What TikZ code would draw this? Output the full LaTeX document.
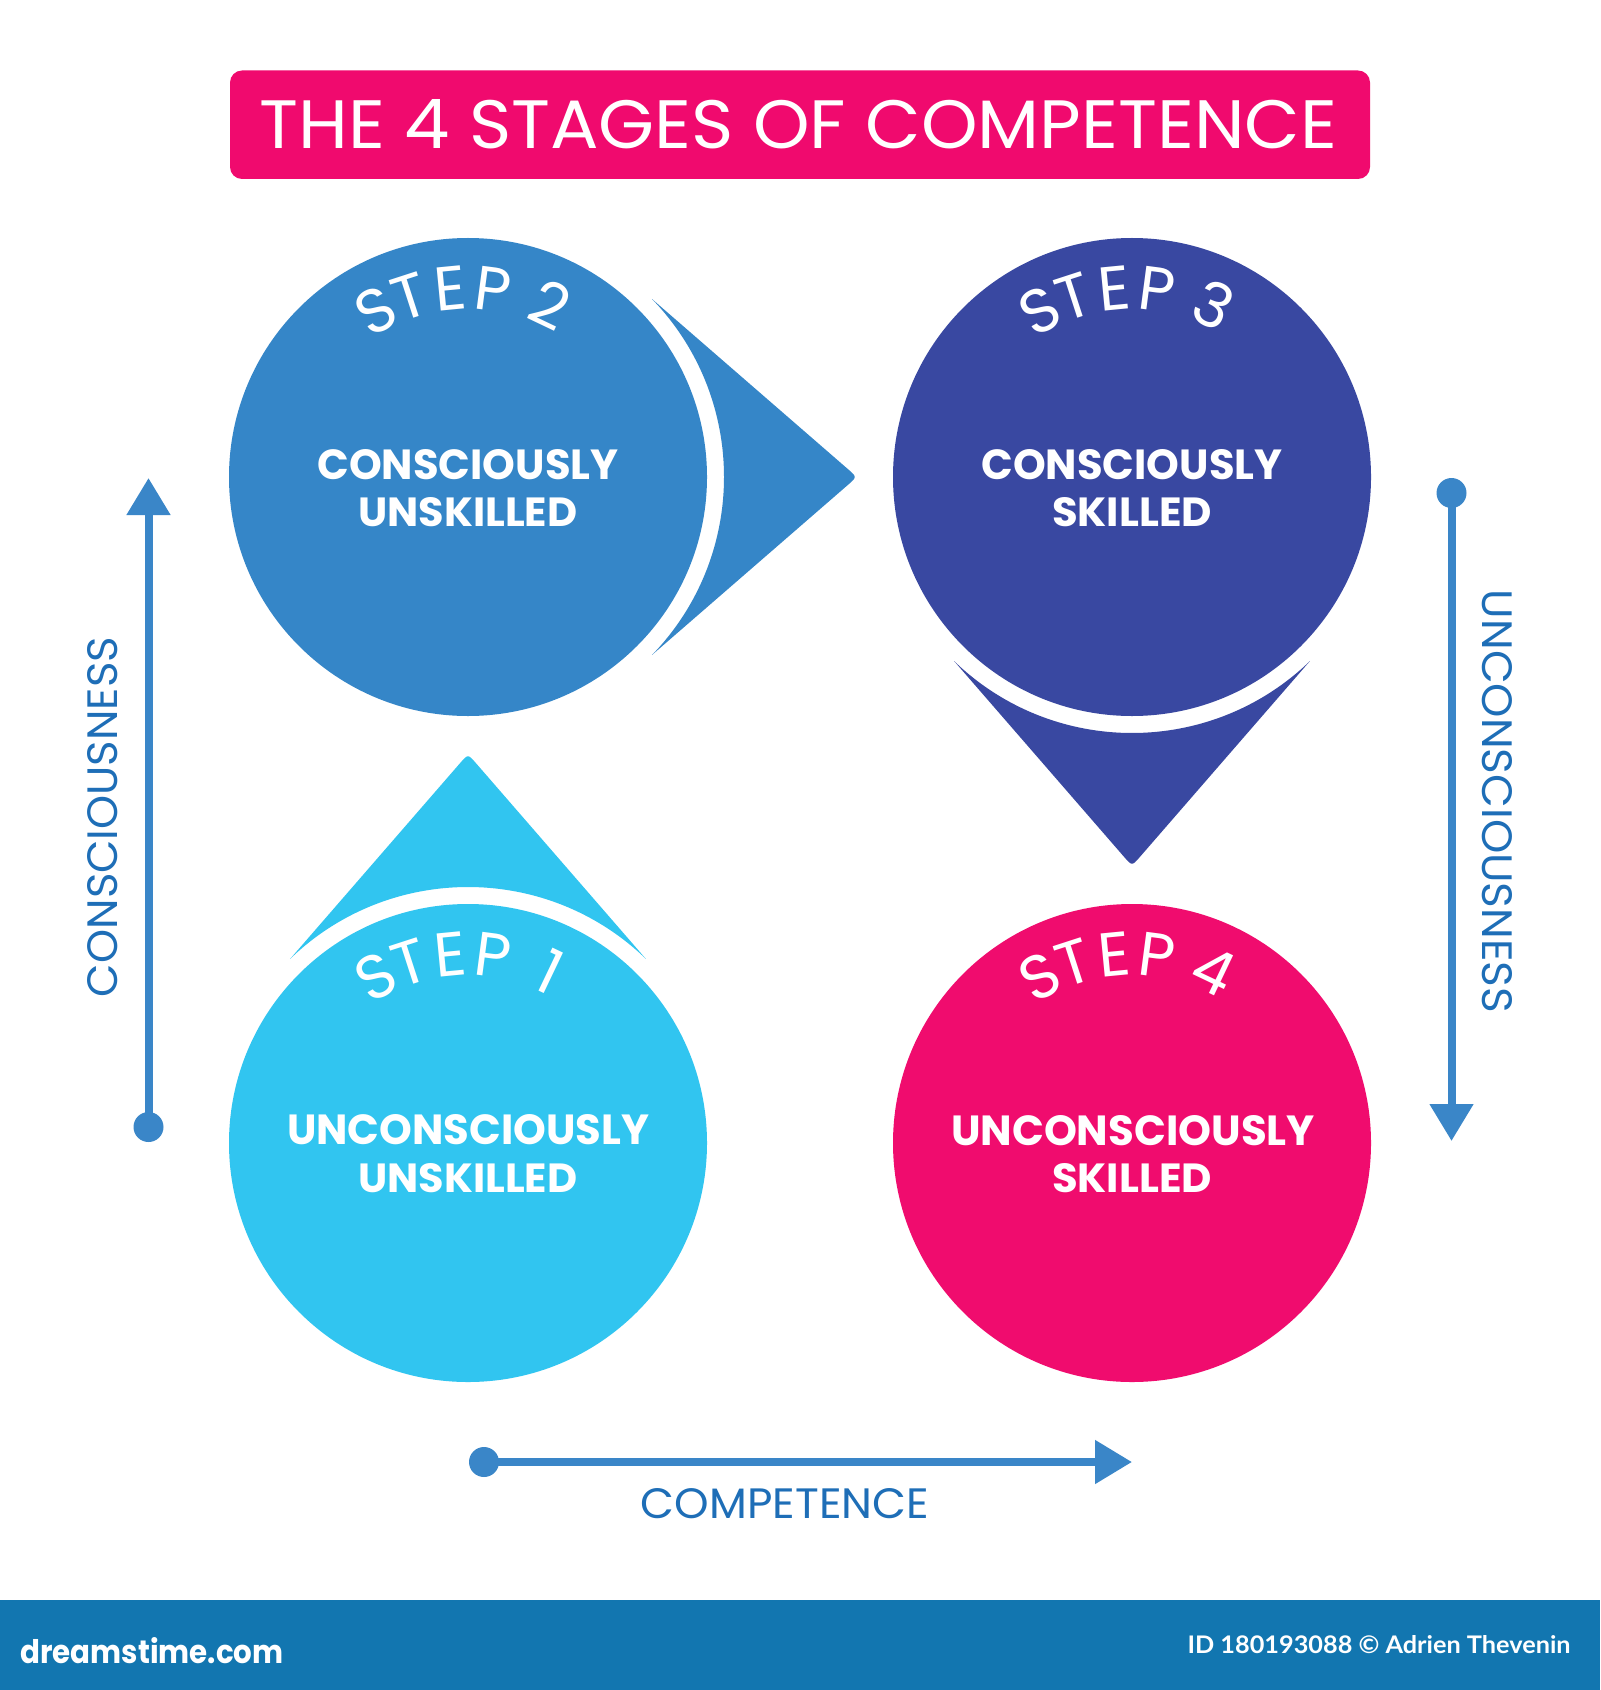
\documentclass[tikz,border=0pt]{standalone}
\usepackage{fontspec}
\setmainfont{Poppins}
\newfontfamily\idfont{Lato}
\usetikzlibrary{calc,arrows.meta}
\definecolor{pinkc}{HTML}{F00A6E}
\definecolor{stepone}{HTML}{31C5F0}
\definecolor{steptwo}{HTML}{3586C8}
\definecolor{stepthree}{HTML}{3948A1}
\definecolor{stepfour}{HTML}{F00C6E}
\definecolor{axisc}{HTML}{3A86C8}
\definecolor{labelc}{HTML}{1E6EB7}
\definecolor{bandc}{HTML}{1276B0}
\begin{document}
\begin{tikzpicture}[x=0.5pt,y=-0.5pt,
  steplet/.style={text=white, font=\fontsize{31pt}{31pt}\selectfont, anchor=base, inner sep=0pt},
  bodytext/.style={text=white, anchor=base, inner sep=0pt, font=\bfseries},
  axislabel/.style={text=labelc, anchor=base, inner sep=0pt},
  axisline/.style={draw=axisc, line width=4pt, -{Triangle[length=18.5pt,width=21pt]}},
  axisdot/.style={fill=axisc}
]
\useasboundingbox (0,0) rectangle (1600,1690);
\fill[white] (0,0) rectangle (1600,1690);

% title
\fill[pinkc, rounded corners=6pt] (230,70.5) rectangle (1370,179);
\node[text=white, anchor=base, inner sep=0pt] (title) at (798.5,149) {\resizebox{538.5pt}{24.5pt}{THE 4 STAGES OF COMPETENCE}};

% centres
\coordinate (c1) at (468,1143);
\coordinate (c2) at (468,477);
\coordinate (c3) at (1132,477);
\coordinate (c4) at (1132,1143);

% step 2 (tip right)
\coordinate (t2) at ($(c2)+(0:389)$);
\coordinate (a2) at ($(c2)+(-44:256)$);
\coordinate (b2) at ($(c2)+(44:256)$);
\fill[steptwo] (a2) -- ($(t2)!6pt!(a2)$) .. controls (t2) .. ($(t2)!6pt!(b2)$) -- (b2) arc[start angle=44, end angle=-44, radius=256] -- cycle;
\fill[steptwo] (c2) circle[radius=239];

% step 3 (tip down)
\coordinate (t3) at ($(c3)+(90:389)$);
\coordinate (a3) at ($(c3)+(46:256)$);
\coordinate (b3) at ($(c3)+(134:256)$);
\fill[stepthree] (a3) -- ($(t3)!6pt!(a3)$) .. controls (t3) .. ($(t3)!6pt!(b3)$) -- (b3) arc[start angle=134, end angle=46, radius=256] -- cycle;
\fill[stepthree] (c3) circle[radius=239];

% step 1 (tip up)
\coordinate (t1) at ($(c1)+(-90:389)$);
\coordinate (a1) at ($(c1)+(-134:256)$);
\coordinate (b1) at ($(c1)+(-46:256)$);
\fill[stepone] (a1) -- ($(t1)!6pt!(a1)$) .. controls (t1) .. ($(t1)!6pt!(b1)$) -- (b1) arc[start angle=-46, end angle=-134, radius=256] -- cycle;
\fill[stepone] (c1) circle[radius=239];

% step 4
\fill[stepfour] (c4) circle[radius=239];

% STEP letters
\foreach \c/\d in {c1/1,c2/2,c3/3,c4/4}{
  \foreach \ch/\ang/\rot [count=\i] in {S/-119/29, T/-108/18, E/-95.5/5.5, P/-82.5/-7.5, \d/-64.5/-25.5}{
    \node[steplet, rotate=\rot] (lab\d-\i) at ($(\c)+(\ang:168)$) {\ch};
  }
}

% body texts
\node[bodytext] (s2a) at (468,479) {\resizebox{150.5pt}{15pt}{CONSCIOUSLY}};
\node[bodytext] (s2b) at (468,526) {\resizebox{109.5pt}{14.5pt}{UNSKILLED}};
\node[bodytext] (s3a) at (1132,479) {\resizebox{150.5pt}{15pt}{CONSCIOUSLY}};
\node[bodytext] (s3b) at (1132,526) {\resizebox{80pt}{14.5pt}{SKILLED}};
\node[bodytext] (s1a) at (468,1144) {\resizebox{181pt}{15pt}{UNCONSCIOUSLY}};
\node[bodytext] (s1b) at (468,1192) {\resizebox{109.5pt}{14.5pt}{UNSKILLED}};
\node[bodytext] (s4a) at (1133,1145) {\resizebox{182pt}{15pt}{UNCONSCIOUSLY}};
\node[bodytext] (s4b) at (1132,1192) {\resizebox{80pt}{14.5pt}{SKILLED}};

% axes
\coordinate (lA) at (148.5,1127); \coordinate (lB) at (148.5,478);
\coordinate (rA) at (1451.5,493); \coordinate (rB) at (1451.5,1141);
\coordinate (bA) at (484,1462);   \coordinate (bB) at (1132,1462);
\foreach \p in {lA,rA,bA}{\fill[axisdot] (\p) circle[radius=15];}
\draw[axisline] (lA) -- (lB);
\draw[axisline] (rA) -- (rB);
\draw[axisline] (bA) -- (bB);

\node[axislabel, rotate=90] (lcons) at (117,817) {\resizebox{180pt}{15pt}{CONSCIOUSNESS}};
\node[axislabel, rotate=-90] (lunc) at (1482,801.5) {\resizebox{211.5pt}{15pt}{UNCONSCIOUSNESS}};
\node[axislabel] (lcomp) at (785,1518) {\resizebox{144pt}{15pt}{COMPETENCE}};

% bottom band
\fill[bandc] (0,1600) rectangle (1600,1690);
\node[text=white, anchor=base west, inner sep=0pt] (logo) at (20,1663) {\resizebox{131.5pt}{13pt}{\bfseries dreamstime.com}};
\node[text=white, anchor=base east, inner sep=0pt] (idtxt) at (1571,1653) {\resizebox{191.5pt}{9pt}{\idfont\bfseries ID 180193088 © Adrien Thevenin}};
\end{tikzpicture}
\end{document}
